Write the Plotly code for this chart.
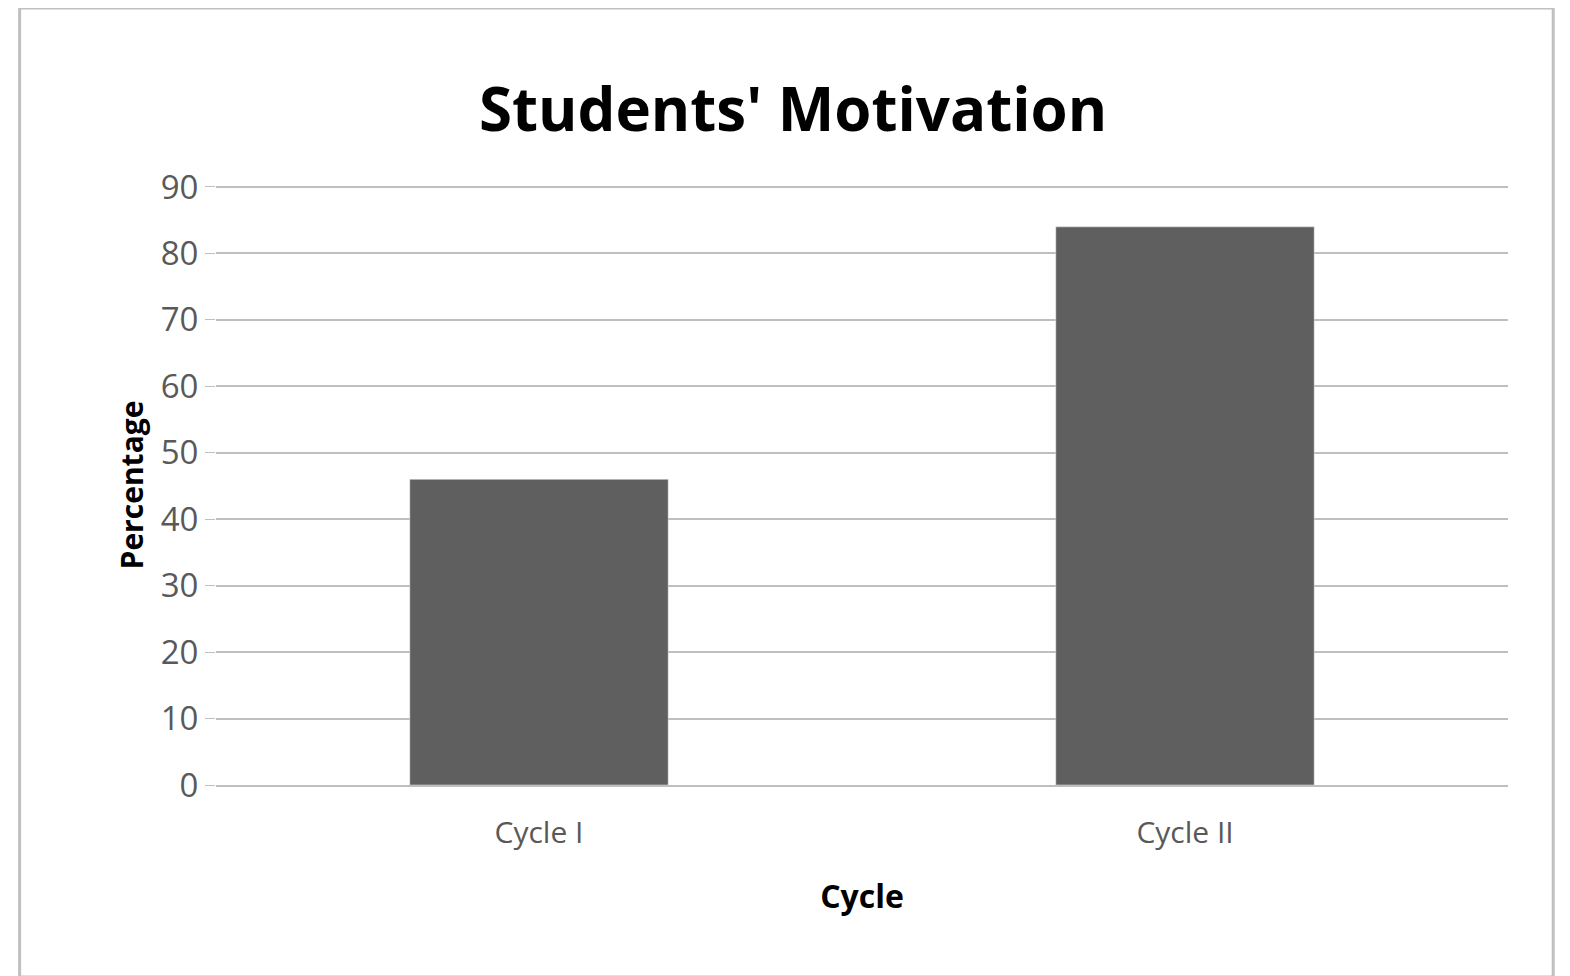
import plotly.graph_objects as go

categories = ["Cycle I", "Cycle II"]
values = [46, 84]
yticks = [0, 10, 20, 30, 40, 50, 60, 70, 80, 90]

fig = go.Figure(go.Bar(x=categories, y=values, marker_color="#5f5f5f", width=0.4))
fig.update_layout(
    width=1570, height=976, paper_bgcolor="white", plot_bgcolor="white",
    margin=dict(l=208, r=70, t=177, b=199, autoexpand=False),
    font=dict(family="Open Sans", color="#595959"),
    title=dict(text="<b>Students' Motivation</b>", x=0.5, xanchor="center", y=0.895, yanchor="middle",
               font=dict(size=60, color="black", family="Open Sans")),
    showlegend=False,
    shapes=[dict(type="rect", xref="paper", yref="paper", x0=-0.152, x1=1.035, y0=-0.32, y1=1.295,
                 line=dict(color="#c0c0c0", width=3))],
)
fig.update_xaxes(tickfont=dict(size=30), showline=True, linecolor="#bfbfbf", linewidth=2,
                 ticks="outside", ticklen=20, tickcolor="rgba(0,0,0,0)",
                 title=dict(text="<b>Cycle</b>", font=dict(size=32, color="black"), standoff=35))
fig.update_yaxes(range=[0, 90.3], tickvals=yticks, tickfont=dict(size=33), gridcolor="#bfbfbf", gridwidth=2,
                 ticks="outside", ticklen=10, tickcolor="#bfbfbf", zeroline=False,
                 title=dict(text="<b>Percentage</b>", font=dict(size=30, color="black"), standoff=8))
fig.write_html("out.html")
